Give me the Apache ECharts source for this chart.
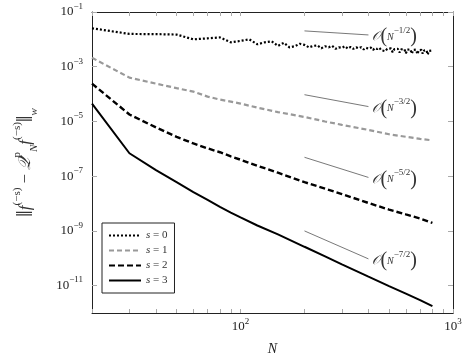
<!DOCTYPE html>
<html><head><meta charset="utf-8">
<script src="https://cdn.jsdelivr.net/npm/echarts@6/dist/echarts.min.js"></script>
<style>html,body{margin:0;padding:0;background:#fff}#c{width:474px;height:361px}</style>
</head><body><div id="c"></div>
<script>
// ---- data ----
const nDense = [20,30,40,50,60,70,80,90,100,110,120,130,140,150,160,170,180,190,200,210,220,230,240,250,260,270,280,290,300,
  310,320,330,340,350,360,370,380,390,400,410,420,430,440,450,460,470,480,490,500,
  510,520,530,540,550,560,570,580,590,600,610,620,630,640,650,660,670,680,690,700,
  710,720,730,740,750,760,770,780,790,800];
const s0 = [0.0255,0.0158,0.0155,0.0150,0.0100,0.0109,0.0118,0.0078,0.0088,0.0100,0.0066,0.0078,0.0085,0.0058,0.0075,0.0051,0.0056,0.0069,0.0063,0.0051,0.0058,0.0060,0.0047,0.0056,0.0051,0.0058,0.0045,0.0051,0.0049,
  0.0056,0.0046,0.0053,0.0045,0.0051,0.0047,0.0052,0.0043,0.0049,0.0046,0.0050,0.0041,0.0048,0.0044,0.0049,0.0040,0.0046,0.0037,0.0045,0.0041,
  0.0047,0.0034,0.0044,0.0040,0.0045,0.0033,0.0043,0.0038,0.0044,0.0031,0.0042,0.0037,0.0043,0.0030,0.0041,0.0036,0.0042,0.0029,0.0040,0.0035,
  0.0041,0.0030,0.0039,0.0034,0.0040,0.0028,0.0038,0.0033,0.0039,0.0034];
const nSparse = [20,30,40,50,60,70,80,90,100,120,150,200,250,300,400,500,600,700,800];
const s1 = [2.12e-3,4.0e-4,2.41e-4,1.65e-4,1.23e-4,8.1e-5,6.3e-5,5.3e-5,4.5e-5,3.2e-5,2.2e-5,1.46e-5,1.0e-5,7.5e-6,4.9e-6,3.4e-6,2.75e-6,2.3e-6,2.04e-6];
const s2 = [2.41e-4,1.8e-5,6.05e-6,2.73e-6,1.58e-6,1.04e-6,7.5e-7,5.3e-7,4.0e-7,2.41e-7,1.34e-7,6.05e-8,3.51e-8,2.21e-8,1.05e-8,6.0e-9,4.0e-9,2.85e-9,1.95e-9];
const s3 = [4.5e-5,6.9e-7,1.66e-7,6.05e-8,2.63e-8,1.35e-8,7.5e-9,4.7e-9,3.1e-9,1.58e-9,7.5e-10,2.63e-10,1.18e-10,6.0e-11,2.13e-11,9.6e-12,5.1e-12,2.96e-12,1.79e-12];
const seriesNames = ['s = 0','s = 1','s = 2','s = 3'];
const guideN = [200, 400];
const guideStart = [2.04e-2, 9.5e-5, 4.9e-7, 1.0e-9];
const guideEnd = [1.45e-2, 3.5e-5, 9.0e-8, 9.5e-11];
const guideExp = ['−1/2','−3/2','−5/2','−7/2'];
const xTicks = [20,30,40,50,60,70,80,90,100,200,300,400,500,600,700,800,900,1000];
const xLabels = [100, 1000];
const yTicks = [1e-11,1e-9,1e-7,1e-5,1e-3,1e-1];

// ---- chart ----
const SERIF = 'Liberation Serif';
const zip = (a, b) => a.map((v, i) => [v, b[i]]);
const supRich = {
  t: {fontFamily: SERIF, fontSize: 13, lineHeight: 20, color: '#222'},
  sup: {fontFamily: SERIF, fontSize: 9, lineHeight: 10, verticalAlign: 'top', color: '#222'}
};
const styles = [
  {color: '#000', width: 2.2, type: [2, 2]},
  {color: '#999', width: 2.2, type: [5, 3]},
  {color: '#000', width: 2.4, type: [6, 3]},
  {color: '#000', width: 2.0, type: 'solid'}
];
const mainData = [zip(nDense, s0), zip(nSparse, s1), zip(nSparse, s2), zip(nSparse, s3)];
const series = mainData.map((d, i) => ({
  name: seriesNames[i], type: 'line', data: d, symbol: 'none', silent: true,
  lineStyle: styles[i], itemStyle: {color: styles[i].color}, animation: false, z: 3
}));
guideStart.forEach((v, i) => {
  series.push({
    name: 'g' + i, type: 'line', data: zip(guideN, [v, guideEnd[i]]), symbol: 'none', silent: true,
    animation: false, lineStyle: {color: '#555', width: 0.8}, z: 2,
    endLabel: {
      show: true, distance: 4, offset: [0, 2],
      formatter: '{o|𝒪}{p|(}{n|N}{s|' + guideExp[i] + '}{p|)}',
      rich: {
        o: {fontFamily: SERIF, fontStyle: 'italic', fontSize: 13, color: '#333', lineHeight: 22},
        p: {fontFamily: SERIF, fontSize: 20, color: '#333', lineHeight: 22},
        n: {fontFamily: SERIF, fontStyle: 'italic', fontSize: 10, color: '#333', lineHeight: 22},
        s: {fontFamily: SERIF, fontSize: 9, color: '#333', lineHeight: 13, verticalAlign: 'top'}
      }
    }
  });
});

const axisLine = {show: true, lineStyle: {color: '#222', width: 1}};
const option = {
  backgroundColor: '#fff',
  animation: false,
  grid: {left: 92, right: 21, top: 12, bottom: 48},
  legend: {
    data: seriesNames, orient: 'vertical', left: 102, top: 223,
    itemWidth: 32, itemHeight: 12, itemGap: 4, padding: [7, 7, 7, 6],
    backgroundColor: '#fff', borderColor: '#222', borderWidth: 1, borderRadius: 0,
    selectedMode: false,
    itemStyle: {opacity: 0, borderWidth: 0},
    formatter: n => '{i|s}' + n.slice(1),
    textStyle: {fontFamily: SERIF, fontSize: 11, color: '#333',
      rich: {i: {fontFamily: SERIF, fontStyle: 'italic', fontSize: 11, color: '#333'}}}
  },
  xAxis: [{
    type: 'log', logBase: 10, min: 20, max: 1000, position: 'bottom',
    name: 'N', nameLocation: 'middle', nameGap: 29,
    nameTextStyle: {fontFamily: SERIF, fontStyle: 'italic', fontSize: 14, color: '#222'},
    axisLine: axisLine,
    axisTick: {show: true, inside: true, length: 4, customValues: xTicks, lineStyle: {color: '#aaa'}},
    axisLabel: {customValues: xLabels, margin: 4,
      formatter: v => '{t|10}{sup|' + Math.round(Math.log10(v)) + '}', rich: supRich},
    splitLine: {show: false}, minorTick: {show: false}
  }, {
    type: 'log', logBase: 10, min: 20, max: 1000, position: 'top',
    axisLine: axisLine,
    axisTick: {show: true, inside: true, length: 4, customValues: xTicks, lineStyle: {color: '#aaa'}},
    axisLabel: {show: false}, splitLine: {show: false}
  }],
  yAxis: [{
    type: 'log', logBase: 10, min: 1e-12, max: 1e-1, position: 'left',
    name: '{b|‖}{t|f}{sup|(−s)}{r| − }{q|𝒬}{sup|p}{sub|N}{t|f}{sup|(−s)}{b|‖}{sub|w}',
    nameLocation: 'middle', nameGap: 52, nameRotate: 90,
    nameTextStyle: {
      rich: {
        t: {fontFamily: SERIF, fontStyle: 'italic', fontSize: 17, lineHeight: 28, color: '#333'},
        r: {fontFamily: SERIF, fontSize: 17, lineHeight: 28, color: '#333'},
        q: {fontFamily: SERIF, fontStyle: 'italic', fontSize: 17, lineHeight: 28, color: '#333'},
        b: {fontFamily: SERIF, fontSize: 24, lineHeight: 28, color: '#333'},
        sup: {fontFamily: SERIF, fontSize: 11, lineHeight: 12, verticalAlign: 'top', color: '#333'},
        sub: {fontFamily: SERIF, fontStyle: 'italic', fontSize: 11, lineHeight: 12, verticalAlign: 'bottom', color: '#333'}
      }
    },
    axisLine: axisLine,
    axisTick: {show: true, inside: true, length: 5, customValues: yTicks, lineStyle: {color: '#aaa'}},
    axisLabel: {customValues: yTicks, margin: 9,
      formatter: v => '{t|10}{sup|−' + Math.round(-Math.log10(v)) + '}', rich: supRich},
    splitLine: {show: false}
  }, {
    type: 'log', logBase: 10, min: 1e-12, max: 1e-1, position: 'right',
    axisLine: axisLine,
    axisTick: {show: true, inside: true, length: 5, customValues: yTicks, lineStyle: {color: '#aaa'}},
    axisLabel: {show: false}, splitLine: {show: false}
  }],
  series: series
};
const chart = echarts.init(document.getElementById('c'), null, {renderer: 'canvas'});
chart.setOption(option);
</script>
</body></html>
